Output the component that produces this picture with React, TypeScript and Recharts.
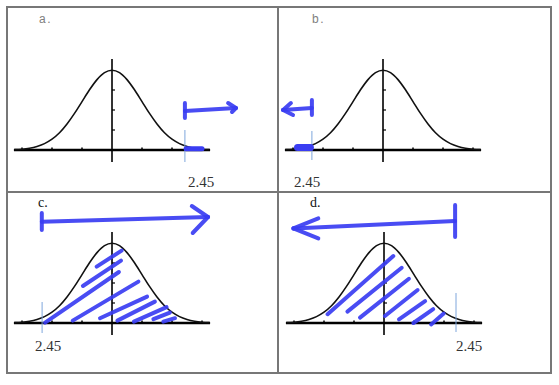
import React from 'react';
import { LineChart, Line, XAxis, YAxis, ReferenceLine } from 'recharts';

// standard normal curve at steps of 0.25
const zGrid = [-3.25, -3, -2.75, -2.5, -2.25, -2, -1.75, -1.5, -1.25, -1, -0.75, -0.5, -0.25, 0,
  0.25, 0.5, 0.75, 1, 1.25, 1.5, 1.75, 2, 2.25, 2.5, 2.75, 3, 3.25];
const density = [0.002, 0.004, 0.009, 0.018, 0.032, 0.054, 0.086, 0.13, 0.183, 0.242, 0.301, 0.352, 0.387, 0.399,
  0.387, 0.352, 0.301, 0.242, 0.183, 0.13, 0.086, 0.054, 0.032, 0.018, 0.009, 0.004, 0.002];
const xTicks = [-3, -2, -1, 1, 2, 3];
const yTicks = [0.1, 0.2, 0.3];
const panelNames = ['a.', 'b.', 'c.', 'd.'];
const cutLabel = '2.45';
const cutX = [2.43, -2.37, -2.33, 2.4];
const cutSpan = [[0.1, -0.06], [0.095, -0.05], [0.105, -0.05], [0.15, -0.045]];

type Seg = [number, number, number, number];

// hand drawn arrows: bar, shaft, two arms of the head
const arrowA: Seg[] = [[2.43, 0.235, 2.43, 0.16], [2.43, 0.195, 4.13, 0.21], [3.87, 0.235, 4.13, 0.21], [4.13, 0.21, 4.0, 0.19]];
const arrowB: Seg[] = [[-2.37, 0.25, -2.37, 0.175], [-2.37, 0.21, -3.33, 0.2], [-3.07, 0.235, -3.33, 0.2], [-3.33, 0.2, -3.0, 0.175]];
const arrowC: Seg[] = [[-2.34, 0.55, -2.34, 0.465], [-2.34, 0.506, 3.2, 0.53], [2.66, 0.585, 3.2, 0.53], [3.2, 0.53, 2.69, 0.45]];
const arrowD: Seg[] = [[2.37, 0.59, 2.37, 0.43], [2.37, 0.51, -3.02, 0.473], [-2.19, 0.523, -3.02, 0.473], [-3.02, 0.473, -2.19, 0.423]];

// shaded tails on the axis (top row)
const blobA: Seg[] = [[2.47, 0.006, 3.0, 0.006]];
const blobB: Seg[] = [[-2.85, 0.013, -2.42, 0.013]];

// hatching (bottom row)
const hatchC: Seg[] = [
  [-0.51, 0.282, 0.32, 0.362], [-0.97, 0.185, 0.3, 0.312], [-2.23, 0.002, 0.23, 0.255],
  [-1.31, 0.012, 0.88, 0.207], [-0.4, 0.024, 1.17, 0.132], [0.18, 0.012, 1.43, 0.107],
  [0.73, 0.007, 1.82, 0.079], [1.38, 0.019, 1.93, 0.052], [1.71, 0.007, 2.1, 0.024],
];
const hatchD: Seg[] = [
  [-1.88, 0.044, 0.31, 0.335], [-1.22, 0.057, 0.59, 0.276], [-0.8, 0.027, 0.83, 0.221],
  [0.03, 0.035, 1.12, 0.165], [0.5, 0.018, 1.37, 0.109], [0.98, 0.0, 1.64, 0.069],
  [1.57, -0.007, 1.99, 0.047],
];

const curve = zGrid.map((x, i) => ({ x, y: density[i] }));
const BLUE = '#3a3df2';

type PanelProps = { left: number; top: number; cut: number; span: number[]; marks: Seg[]; blobs: Seg[]; blobWidth: number };

const seg = (s: Seg) => [{ x: s[0], y: s[1] }, { x: s[2], y: s[3] }];

const Panel = ({ left, top, cut, span, marks, blobs, blobWidth }: PanelProps) => (
  <div style={{ position: 'absolute', left, top }}>
    <LineChart width={271} height={185} data={curve} margin={{ top: 0, right: 0, bottom: 0, left: 0 }}>
      <XAxis dataKey="x" type="number" domain={[-3.5, 5.533]} hide allowDataOverflow />
      <YAxis type="number" domain={[-0.21, 0.715]} hide allowDataOverflow />
      <ReferenceLine segment={[{ x: -3.27, y: 0 }, { x: 3.27, y: 0 }]} stroke="#000" strokeWidth={2.6} ifOverflow="visible" />
      <ReferenceLine segment={[{ x: 0, y: -0.06 }, { x: 0, y: 0.455 }]} stroke="#000" strokeWidth={1.6} ifOverflow="visible" />
      {xTicks.map((t) => (
        <ReferenceLine key={'xt' + t} segment={[{ x: t, y: 0 }, { x: t, y: 0.012 }]} stroke="#000" strokeWidth={1.5} ifOverflow="visible" />
      ))}
      {yTicks.map((t) => (
        <ReferenceLine key={'yt' + t} segment={[{ x: 0, y: t }, { x: 0.1, y: t }]} stroke="#000" strokeWidth={1.2} ifOverflow="visible" />
      ))}
      <Line dataKey="y" type="monotone" stroke="#111" strokeWidth={1.6} dot={false} isAnimationActive={false} />
      <ReferenceLine segment={[{ x: cut, y: span[0] }, { x: cut, y: span[1] }]} stroke="#7ea6dc" strokeWidth={1} ifOverflow="visible" />
      {blobs.map((s, i) => (
        <ReferenceLine key={'b' + i} segment={seg(s)} stroke={BLUE} strokeWidth={blobWidth} strokeLinecap="round" ifOverflow="visible" />
      ))}
      {marks.map((s, i) => (
        <ReferenceLine key={'m' + i} segment={seg(s)} stroke={BLUE} strokeWidth={4} strokeLinecap="round" strokeOpacity={0.92} ifOverflow="visible" />
      ))}
    </LineChart>
  </div>
);

const line = (style: React.CSSProperties) => <div style={{ position: 'absolute', background: '#777', ...style }} />;

const sans: React.CSSProperties = { position: 'absolute', fontFamily: '"Liberation Sans", Arial, sans-serif', fontSize: 12, lineHeight: '12px', color: '#808080', letterSpacing: 1.5 };
const serif: React.CSSProperties = { position: 'absolute', fontFamily: '"Liberation Serif", "Times New Roman", serif', fontSize: 15, lineHeight: '15px', color: '#333' };

export default function App() {
  return (
    <div style={{ position: 'absolute', left: 0, top: 0, width: 559, height: 385, background: '#fff', overflow: 'hidden' }}>
      {line({ left: 6, top: 6, width: 546, height: 2 })}
      {line({ left: 6, top: 372, width: 546, height: 2 })}
      {line({ left: 6, top: 6, width: 2, height: 368 })}
      {line({ left: 550, top: 6, width: 2, height: 368 })}
      {line({ left: 277, top: 6, width: 2, height: 368 })}
      {line({ left: 6, top: 191, width: 546, height: 2 })}

      <Panel left={7} top={7} cut={cutX[0]} span={cutSpan[0]} marks={arrowA} blobs={blobA} blobWidth={5} />
      <Panel left={278} top={7} cut={cutX[1]} span={cutSpan[1]} marks={arrowB} blobs={blobB} blobWidth={7} />
      <Panel left={7} top={180} cut={cutX[2]} span={cutSpan[2]} marks={[...arrowC, ...hatchC]} blobs={[]} blobWidth={4} />
      <Panel left={279} top={180} cut={cutX[3]} span={cutSpan[3]} marks={[...arrowD, ...hatchD]} blobs={[]} blobWidth={4} />

      <div style={{ ...sans, left: 39, top: 13 }}>{panelNames[0]}</div>
      <div style={{ ...sans, left: 312, top: 13 }}>{panelNames[1]}</div>
      <div style={{ ...serif, fontSize: 14, lineHeight: '14px', color: '#111', left: 38, top: 196 }}>{panelNames[2]}</div>
      <div style={{ ...serif, fontSize: 14, lineHeight: '14px', color: '#111', left: 310, top: 196 }}>{panelNames[3]}</div>

      <div style={{ ...serif, left: 188, top: 175 }}>{cutLabel}</div>
      <div style={{ ...serif, left: 294, top: 175 }}>{cutLabel}</div>
      <div style={{ ...serif, left: 35, top: 339 }}>{cutLabel}</div>
      <div style={{ ...serif, left: 456, top: 339 }}>{cutLabel}</div>
    </div>
  );
}
